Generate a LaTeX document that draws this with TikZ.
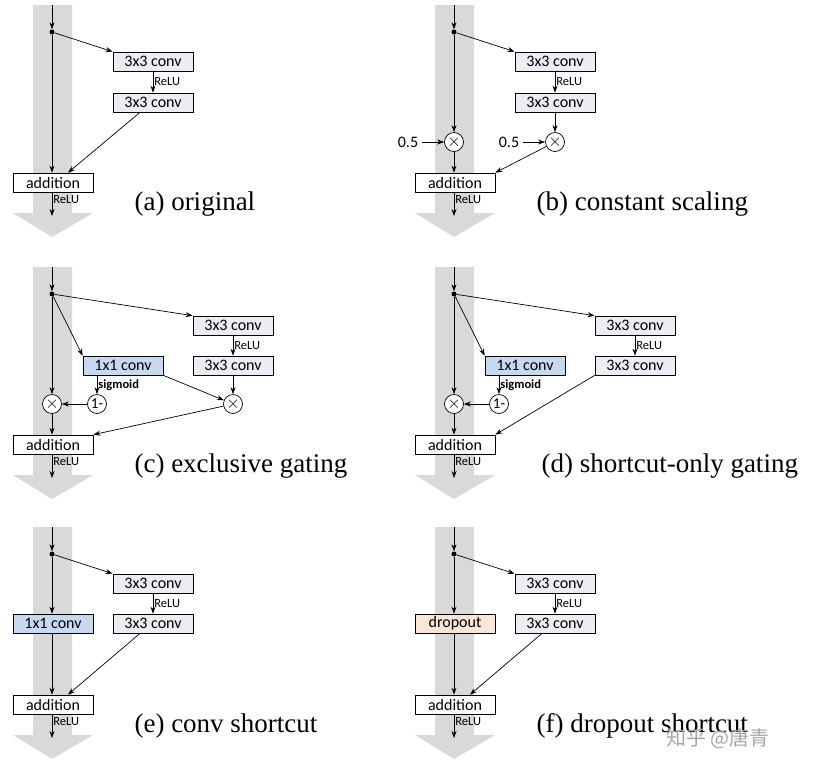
\documentclass[tikz,border=0pt]{standalone}
\usepackage{fontspec}
\setmainfont{Liberation Serif}
\newfontfamily\boxfont{Carlito}
\newfontfamily\cjk{Noto Sans CJK SC}
\usetikzlibrary{arrows.meta}
\definecolor{bandgray}{HTML}{D9D9D9}
\definecolor{convfill}{HTML}{EEEBF3}
\definecolor{bluefill}{HTML}{C6D9F1}
\definecolor{peach}{HTML}{FBE5D6}
\tikzset{
 box/.style={draw,line width=0.7pt,minimum width=80pt,minimum height=19pt,inner sep=0pt,font=\boxfont\fontsize{16}{16}\selectfont},
 conv/.style={box,fill=convfill},
 gate/.style={box,fill=bluefill},
 drop/.style={box,fill=peach},
 add/.style={box,fill=white},
 mul/.style={draw,circle,fill=white,minimum size=19pt,inner sep=0pt,line width=0.7pt,font=\fontsize{16}{16}\selectfont},
 lab/.style={font=\boxfont\fontsize{12.5}{12.5}\selectfont,inner sep=1pt},
 captxt/.style={font=\fontsize{27}{27}\selectfont,anchor=west},
 arr/.style={-{Stealth[length=7pt,width=5pt]},line width=0.7pt},
 dot/.style={circle,fill,inner sep=0pt,minimum size=5pt},
}
\newcommand{\band}[2]{%
 \fill[bandgray] (#1+33,#2) -- (#1+72,#2) -- (#1+72,#2+208) -- (#1+93,#2+208) -- (#1+52,#2+232) -- (#1+13,#2+208) -- (#1+33,#2+208) -- cycle;}
\begin{document}
\begin{tikzpicture}[x=1pt,y=-1pt]
\useasboundingbox (0,0) rectangle (817,772);
% ---------- (a)
\band{0}{5}
\coordinate (aT) at (52,5);
\node[dot] (aD) at (52,32) {};
\node[conv] (aC1) at (153,61.5) {3x3 conv};
\node[conv] (aC2) at (153,102.5) {3x3 conv};
\node[add] (aA) at (53,182.5) {addition};
\coordinate (aO) at (52,216);
\draw[arr] (aT) -- (aD);
\draw[arr] (aD) -- (aC1.north west);
\draw[arr] (aC1) -- node[lab,right]{ReLU} (aC2);
\draw[arr] ([xshift=-13pt]aC2.south) -- ([xshift=15pt]aA.north);
\draw[arr] (aD) -- (aA.north -| aD);
\draw[arr] (aA.south -| aO) -- node[lab,right,pos=0.3]{ReLU} (aO);
\node[captxt] (aL) at (131,204) {(a) original};
% ---------- (b)
\begin{scope}[xshift=402pt]
\band{0}{5}
\coordinate (bT) at (52,5);
\node[dot] (bD) at (52,32) {};
\node[conv] (bC1) at (153,61.5) {3x3 conv};
\node[conv] (bC2) at (153,102.5) {3x3 conv};
\node[mul] (bM1) at (52,142) {$\times$};
\node[mul] (bM2) at (153,142) {$\times$};
\node[font=\boxfont\fontsize{16}{16}\selectfont] (bH1) at (6,142) {0.5};
\node[font=\boxfont\fontsize{16}{16}\selectfont] (bH2) at (107,142) {0.5};
\node[add] (bA) at (53,182.5) {addition};
\coordinate (bO) at (52,216);
\draw[arr] (bT) -- (bD);
\draw[arr] (bD) -- (bC1.north west);
\draw[arr] (bC1) -- node[lab,right]{ReLU} (bC2);
\draw[arr] (bC2) -- (bM2);
\draw[arr] (bD) -- (bM1);
\draw[arr] (bH1) -- (bM1);
\draw[arr] (bH2) -- (bM2);
\draw[arr] (bM1) -- (bA.north -| bM1);
\draw[arr] (bM2) -- (bA.north east);
\draw[arr] (bA.south -| bO) -- node[lab,right,pos=0.3]{ReLU} (bO);
\node[captxt] (bL) at (131,204) {(b) constant scaling};
\end{scope}
% ---------- (c)
\begin{scope}[yshift=-262pt]
\band{0}{5}
\coordinate (cT) at (52,5);
\node[dot] (cD) at (52,32) {};
\node[conv] (cC1) at (233,63.5) {3x3 conv};
\node[conv] (cC2) at (233,103.5) {3x3 conv};
\node[gate] (cG) at (123,103.5) {1x1 conv};
\node[mul] (cM1) at (52,142) {$\times$};
\node[mul,font=\boxfont\fontsize{15}{15}\selectfont] (cN) at (97,142) {1-};
\node[mul] (cM2) at (233,142) {$\times$};
\node[add] (cA) at (53,182.5) {addition};
\coordinate (cO) at (52,216);
\draw[arr] (cT) -- (cD);
\draw[arr] (cD) -- (cC1.north west);
\draw[arr] (cD) -- (cG.north west);
\draw[arr] (cC1) -- node[lab,right]{ReLU} (cC2);
\draw[arr] (cC2) -- (cM2);
\draw[arr] (cG.south -| cN) -- node[lab,right,font=\boxfont\bfseries\fontsize{12.5}{12.5}\selectfont]{sigmoid} (cN);
\draw[arr] (cG.south east) -- (cM2);
\draw[arr] (cN) -- (cM1);
\draw[arr] (cD) -- (cM1);
\draw[arr] (cM1) -- (cA.north -| cM1);
\draw[arr] (cM2) -- (cA.north east);
\draw[arr] (cA.south -| cO) -- node[lab,right,pos=0.3]{ReLU} (cO);
\node[captxt] (cL) at (131,204) {(c) exclusive gating};
\end{scope}
% ---------- (d)
\begin{scope}[xshift=402pt,yshift=-262pt]
\band{0}{5}
\coordinate (dT) at (52,5);
\node[dot] (dD) at (52,32) {};
\node[conv] (dC1) at (233,63.5) {3x3 conv};
\node[conv] (dC2) at (233,103.5) {3x3 conv};
\node[gate] (dG) at (123,103.5) {1x1 conv};
\node[mul] (dM1) at (52,142) {$\times$};
\node[mul,font=\boxfont\fontsize{15}{15}\selectfont] (dN) at (97,142) {1-};
\node[add] (dA) at (53,182.5) {addition};
\coordinate (dO) at (52,216);
\draw[arr] (dT) -- (dD);
\draw[arr] (dD) -- (dC1.north west);
\draw[arr] (dD) -- (dG.north west);
\draw[arr] (dC1) -- node[lab,right]{ReLU} (dC2);
\draw[arr] (dG.south -| dN) -- node[lab,right,font=\boxfont\bfseries\fontsize{12.5}{12.5}\selectfont]{sigmoid} (dN);
\draw[arr] (dN) -- (dM1);
\draw[arr] (dD) -- (dM1);
\draw[arr] (dM1) -- (dA.north -| dM1);
\draw[arr] (dC2.south west) -- (dA.north east);
\draw[arr] (dA.south -| dO) -- node[lab,right,pos=0.3]{ReLU} (dO);
\node[captxt] (dL) at (136,204) {(d) shortcut-only gating};
\end{scope}
% ---------- (e)
\begin{scope}[yshift=-522pt]
\band{0}{5}
\coordinate (eT) at (52,5);
\node[dot] (eD) at (52,32) {};
\node[conv] (eC1) at (153,61.5) {3x3 conv};
\node[conv] (eC2) at (153,101.5) {3x3 conv};
\node[gate] (eS) at (53,101.5) {1x1 conv};
\node[add] (eA) at (53,182.5) {addition};
\coordinate (eO) at (52,216);
\draw[arr] (eT) -- (eD);
\draw[arr] (eD) -- (eC1.north west);
\draw[arr] (eC1) -- node[lab,right]{ReLU} (eC2);
\draw[arr] (eD) -- (eS.north -| eD);
\draw[arr] (eS.south -| eD) -- (eA.north -| eD);
\draw[arr] ([xshift=-13pt]eC2.south) -- ([xshift=15pt]eA.north);
\draw[arr] (eA.south -| eO) -- node[lab,right,pos=0.3]{ReLU} (eO);
\node[captxt] (eL) at (131,204) {(e) conv shortcut};
\end{scope}
% ---------- (f)
\begin{scope}[xshift=402pt,yshift=-522pt]
\band{0}{5}
\coordinate (fT) at (52,5);
\node[dot] (fD) at (52,32) {};
\node[conv] (fC1) at (153,61.5) {3x3 conv};
\node[conv] (fC2) at (153,101.5) {3x3 conv};
\node[drop] (fS) at (53,101.5) {dropout};
\node[add] (fA) at (53,182.5) {addition};
\coordinate (fO) at (52,216);
\draw[arr] (fT) -- (fD);
\draw[arr] (fD) -- (fC1.north west);
\draw[arr] (fC1) -- node[lab,right]{ReLU} (fC2);
\draw[arr] (fD) -- (fS.north -| fD);
\draw[arr] (fS.south -| fD) -- (fA.north -| fD);
\draw[arr] ([xshift=-13pt]fC2.south) -- ([xshift=15pt]fA.north);
\draw[arr] (fA.south -| fO) -- node[lab,right,pos=0.3]{ReLU} (fO);
\node[captxt] (fL) at (131,204) {(f) dropout shortcut};
\end{scope}
\node[font=\cjk\fontsize{20}{20}\selectfont,text=gray!70,anchor=west] (wm) at (663,739) {知乎 @唐青};
\end{tikzpicture}
\end{document}
